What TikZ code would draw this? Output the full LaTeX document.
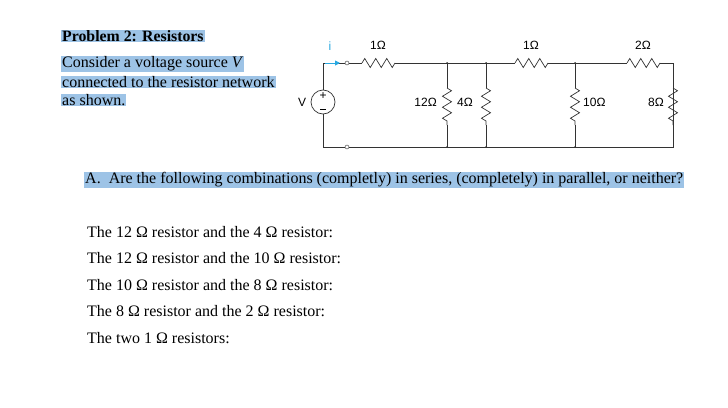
\documentclass[tikz,border=0pt]{standalone}
\usepackage{fontspec}
\setmainfont{Liberation Serif}
\newfontfamily\sansf{Liberation Sans}
\usetikzlibrary{decorations.pathmorphing,arrows.meta}
\definecolor{hl}{HTML}{9DC3E6}
\definecolor{cy}{HTML}{29A8E0}
\begin{document}
\begin{tikzpicture}[x=1pt,y=-1pt,
  hltxt/.style={anchor=west,fill=hl,inner xsep=1pt,inner ysep=0.5pt,font=\fontsize{16}{18}\selectfont},
  txt/.style={anchor=west,inner sep=0pt,font=\fontsize{16}{18}\selectfont},
  lab/.style={font=\sansf\fontsize{12}{12}\selectfont,inner sep=1pt},
  wire/.style={line width=0.7pt,black!80},
  hres/.style={wire,decorate,decoration={zigzag,segment length=11pt,amplitude=4.5pt}},
  oc/.style={circle,draw=black!80,fill=white,inner sep=0pt,minimum size=4pt}]
\useasboundingbox (0,0) rectangle (728,407);
% texts
\node[hltxt,font=\bfseries\fontsize{15.8}{17}\selectfont] (t1) at (61,36) {Problem 2: Resistors};
\node[hltxt] (t2) at (61,64) {Consider a voltage source \textit{V}};
\node[hltxt] (t3) at (61,82) {connected to the resistor network};
\node[hltxt] (t4) at (61,100) {as shown.};
\node[hltxt] (q) at (84,180) {A.\ \ Are the following combinations (completly) in series, (completely) in parallel, or neither?};
\node[txt] (i1) at (87,232) {The 12 Ω resistor and the 4 Ω resistor:};
\node[txt] (i2) at (87,258) {The 12 Ω resistor and the 10 Ω resistor:};
\node[txt] (i3) at (87,285) {The 10 Ω resistor and the 8 Ω resistor:};
\node[txt] (i4) at (87,311) {The 8 Ω resistor and the 2 Ω resistor:};
\node[txt] (i5) at (87,338) {The two 1 Ω resistors:};
% circuit coordinates
\coordinate (TL) at (323,63); \coordinate (BL) at (323,147);
\node[oc] (ot) at (347,63) {}; \node[oc] (ob) at (347,147) {};
\coordinate (r1a) at (362,63); \coordinate (r1b) at (395,63);
\coordinate (j1) at (447,63); \coordinate (j2) at (486,63);
\coordinate (r2a) at (515,63); \coordinate (r2b) at (548,63);
\coordinate (j3) at (575,63);
\coordinate (r3a) at (627,63); \coordinate (r3b) at (660,63);
\coordinate (TR) at (673,63); \coordinate (BR) at (673,147);
\coordinate (b1) at (447,147); \coordinate (b2) at (486,147); \coordinate (b3) at (575,147);
\node[circle,draw=black!80,line width=0.7pt,minimum size=24pt,inner sep=0pt] (src) at (323,102) {};
\node[font=\sansf\fontsize{12}{12}\selectfont,inner sep=0pt] (pl) at (323,96) {+};
\node[inner sep=0pt] (mi) at (323,109) {\rule{6pt}{0.8pt}};
% wires
\draw[wire] (src.north) -- (TL) -- (ot);
\draw[wire] (src.south) -- (BL) -- (ob) -- (BR) -- (TR) -- (r3b);
\draw[wire] (ot) -- (r1a); \draw[hres] (r1a) -- (r1b);
\draw[wire] (r1b) -- (r2a); \draw[hres] (r2a) -- (r2b);
\draw[wire] (r2b) -- (r3a); \draw[hres] (r3a) -- (r3b);
\draw[wire] (j1) -- ++(0,25) coordinate (v1a); \draw[hres] (v1a) -- ++(0,37) coordinate (v1b); \draw[wire] (v1b) -- (b1);
\draw[wire] (j2) -- ++(0,25) coordinate (v2a); \draw[hres] (v2a) -- ++(0,37) coordinate (v2b); \draw[wire] (v2b) -- (b2);
\draw[wire] (j3) -- ++(0,25) coordinate (v3a); \draw[hres] (v3a) -- ++(0,37) coordinate (v3b); \draw[wire] (v3b) -- (b3);
\draw[wire] (TR) -- ++(0,25) coordinate (v4a); \draw[hres] (v4a) -- ++(0,37) coordinate (v4b); \draw[wire] (v4b) -- (BR);
\foreach \p in {j1,j2,j3,b1,b2,b3}{\fill[black!80] (\p) circle (1pt);}
% current arrow
\coordinate (ia) at (325,63); \coordinate (ib) at (340,63);
\draw[cy,line width=0.9pt,-{Triangle[length=5pt,width=5pt]}] (ia) -- (ib);
\node[lab,text=cy] (il) at (330,46) {i};
% labels
\node[lab] (l1) at (378,45) {1Ω};
\node[lab] (l2) at (531,45) {1Ω};
\node[lab] (l3) at (643,45) {2Ω};
\node[lab,anchor=east] (l4) at (438,102) {12Ω};
\node[lab,anchor=west] (l5) at (456,102) {4Ω};
\node[lab,anchor=west] (l6) at (582,102) {10Ω};
\node[lab,anchor=east] (l7) at (665,102) {8Ω};
\node[lab] (lv) at (302,102) {V};
\end{tikzpicture}
\end{document}
